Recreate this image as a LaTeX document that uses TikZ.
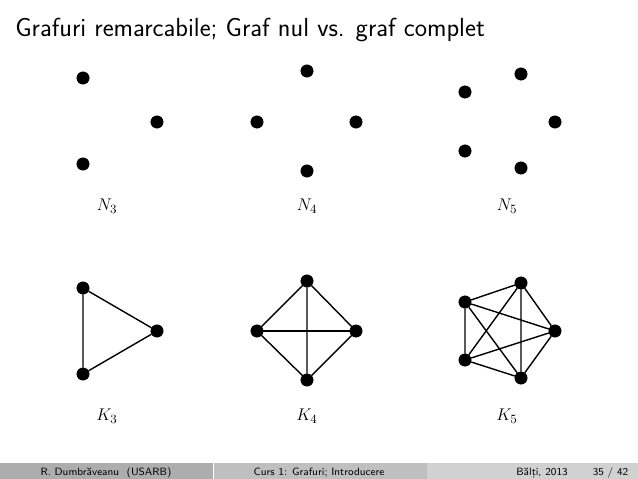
\documentclass[tikz,border=0pt]{standalone}
\usepackage{amsmath}
\usepackage{tikz}
\usetikzlibrary{positioning}
\definecolor{barA}{gray}{0.68}
\definecolor{barB}{gray}{0.75}
\definecolor{barC}{gray}{0.82}
\tikzset{
	vertex/.style={draw,circle,fill=black,inner sep=0pt,minimum size=0.31cm},
	link/.style={line width=1pt},
	graphname/.style={font=\fontsize{12.5}{15}\selectfont},
	headline/.style={font=\fontsize{18.6}{22}\sffamily,anchor=base west,inner sep=0pt},
	foot/.style={font=\fontsize{7.5}{10}\sffamily,anchor=base,inner sep=0pt},
	bar/.style={draw=none,rectangle,inner sep=0pt,anchor=north west,minimum width=5.32cm,minimum height=0.4cm}
}

\begin{document}
\begin{tikzpicture}[x=0.025cm,y=-0.025cm]
            \useasboundingbox (0,0) rectangle (638,479);
            \node[headline] (head) at (15,37) {Grafuri remarcabile; Graf nul vs. graf complet};
            \node[vertex] (n31) at (83,78) {};
            \node[vertex] (n32) at (157,122) {};
            \node[vertex] (n33) at (83,164) {};
            \node[graphname] (n3) at (107,206) {$N_3$};
            \node[vertex] (n41) at (307,71) {};
            \node[vertex] (n42) at (257,122) {};
            \node[vertex] (n43) at (356,122) {};
            \node[vertex] (n44) at (307,171) {};
            \node[graphname] (n4) at (307,206) {$N_4$};
            \node[vertex] (n51) at (521,74) {};
            \node[vertex] (n52) at (465,92) {};
            \node[vertex] (n53) at (555,122) {};
            \node[vertex] (n54) at (465,151) {};
            \node[vertex] (n55) at (521,168) {};
            \node[graphname] (n5) at (507,206) {$N_5$};
            \node[vertex] (k31) at (83,288) {};
            \node[vertex] (k32) at (157,331) {};
            \node[vertex] (k33) at (83,374) {};
            \node[graphname] (k3) at (107,416) {$K_3$};
            \draw[link] (k31) -- (k32) -- (k33) -- (k31);
            \node[vertex] (k41) at (307,281) {};
            \node[vertex] (k42) at (257,331) {};
            \node[vertex] (k43) at (356,331) {};
            \node[vertex] (k44) at (307,380) {};
            \node[graphname] (k4) at (307,416) {$K_4$};
            \draw[link] (k41) -- (k42) -- (k44) -- (k43) -- (k41) -- (k44);
            \draw[link] (k42) -- (k43);
            \node[vertex] (k51) at (521,283) {};
            \node[vertex] (k52) at (465,302) {};
            \node[vertex] (k53) at (555,331) {};
            \node[vertex] (k54) at (465,360) {};
            \node[vertex] (k55) at (521,378) {};
            \node[graphname] (k5) at (507,416) {$K_5$};
            \draw[link] (k51) -- (k52) -- (k54) -- (k55) -- (k53) -- (k51);
            \draw[link] (k51) -- (k54) -- (k53) -- (k52) -- (k55) -- (k51);
            \node[bar,fill=barA] (barleft) at (0,463) {};
            \node[bar,fill=barB,right=0pt of barleft] (barmid) {};
            \node[bar,fill=barC,right=0pt of barmid] (barright) {};
            \node[foot] (author) at (106,475) {R. Dumbrăveanu\ \ (USARB)};
            \node[foot] (course) at (319,475) {Curs 1: Grafuri; Introducere};
            \node[foot] (place) at (542,475) {Bălți, 2013};
            \node[foot] (page) at (610.5,475) {35 / 42};
        \end{tikzpicture}
\end{document}
